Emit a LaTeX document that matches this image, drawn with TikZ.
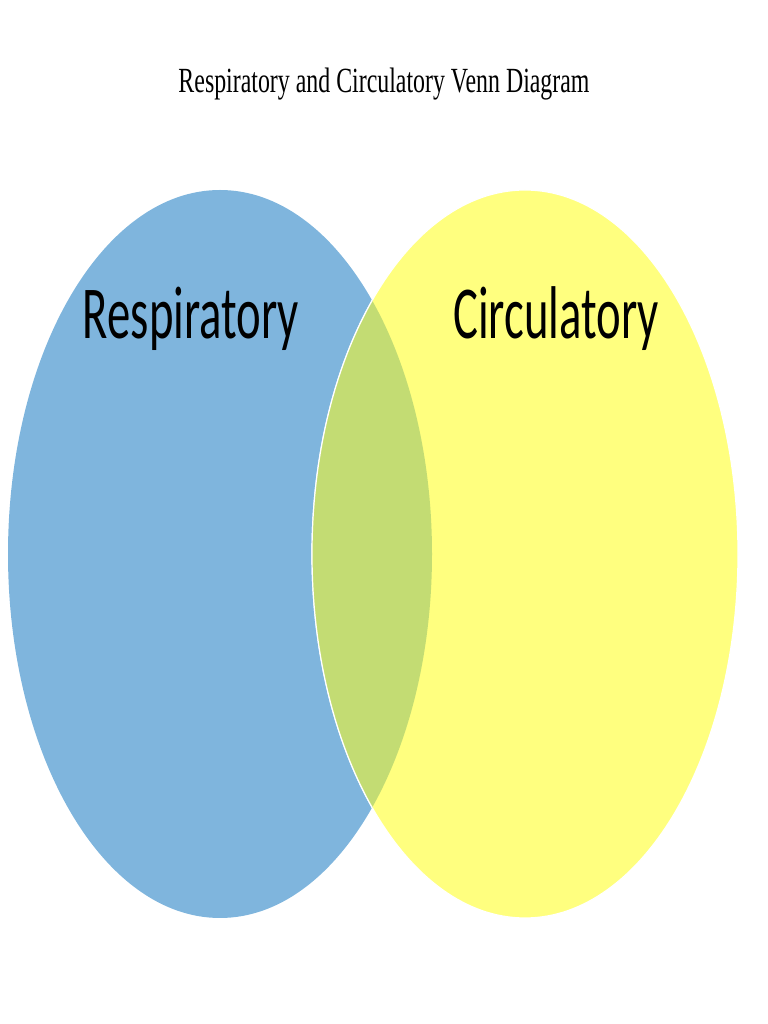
\documentclass[tikz,border=0pt]{standalone}
\usepackage{fontspec}
\setmainfont{Liberation Serif}
\newfontfamily\labelfont{Carlito}
\usetikzlibrary{positioning}

\definecolor{respblue}{HTML}{7FB5DD}
\definecolor{circyellow}{HTML}{FFFF7F}
\definecolor{overlapgreen}{HTML}{C3DC73}

\begin{document}
\begin{tikzpicture}[
  x=1bp, y=1bp,
  title/.style={anchor=base, inner sep=0pt, font=\fontsize{35.5}{40}\selectfont},
  setlabel/.style={anchor=base, inner sep=0pt, font=\labelfont\fontsize{75}{80}\selectfont}
]
\useasboundingbox (0,0) rectangle (768,1024);
% the two sets
\fill[respblue] (220,470) ellipse [x radius=212, y radius=364];
\filldraw[fill=circyellow, draw=white, line width=1.2pt] (525,470) ellipse [x radius=213, y radius=364];
\begin{scope}
  \clip (220,470) ellipse [x radius=212, y radius=364];
  \filldraw[fill=overlapgreen, draw=white, line width=1.2pt] (525,470) ellipse [x radius=213, y radius=364];
\end{scope}
% texts
\node[title] (heading) at (384,931) {\scalebox{0.675}[1]{Respiratory and Circulatory Venn Diagram}};
\node[setlabel] (resp) at (191,685) {\scalebox{0.625}[1]{Respiratory}};
\node[setlabel] (circ) at (556,685) {\scalebox{0.625}[1]{Circulatory}};
\end{tikzpicture}
\end{document}
